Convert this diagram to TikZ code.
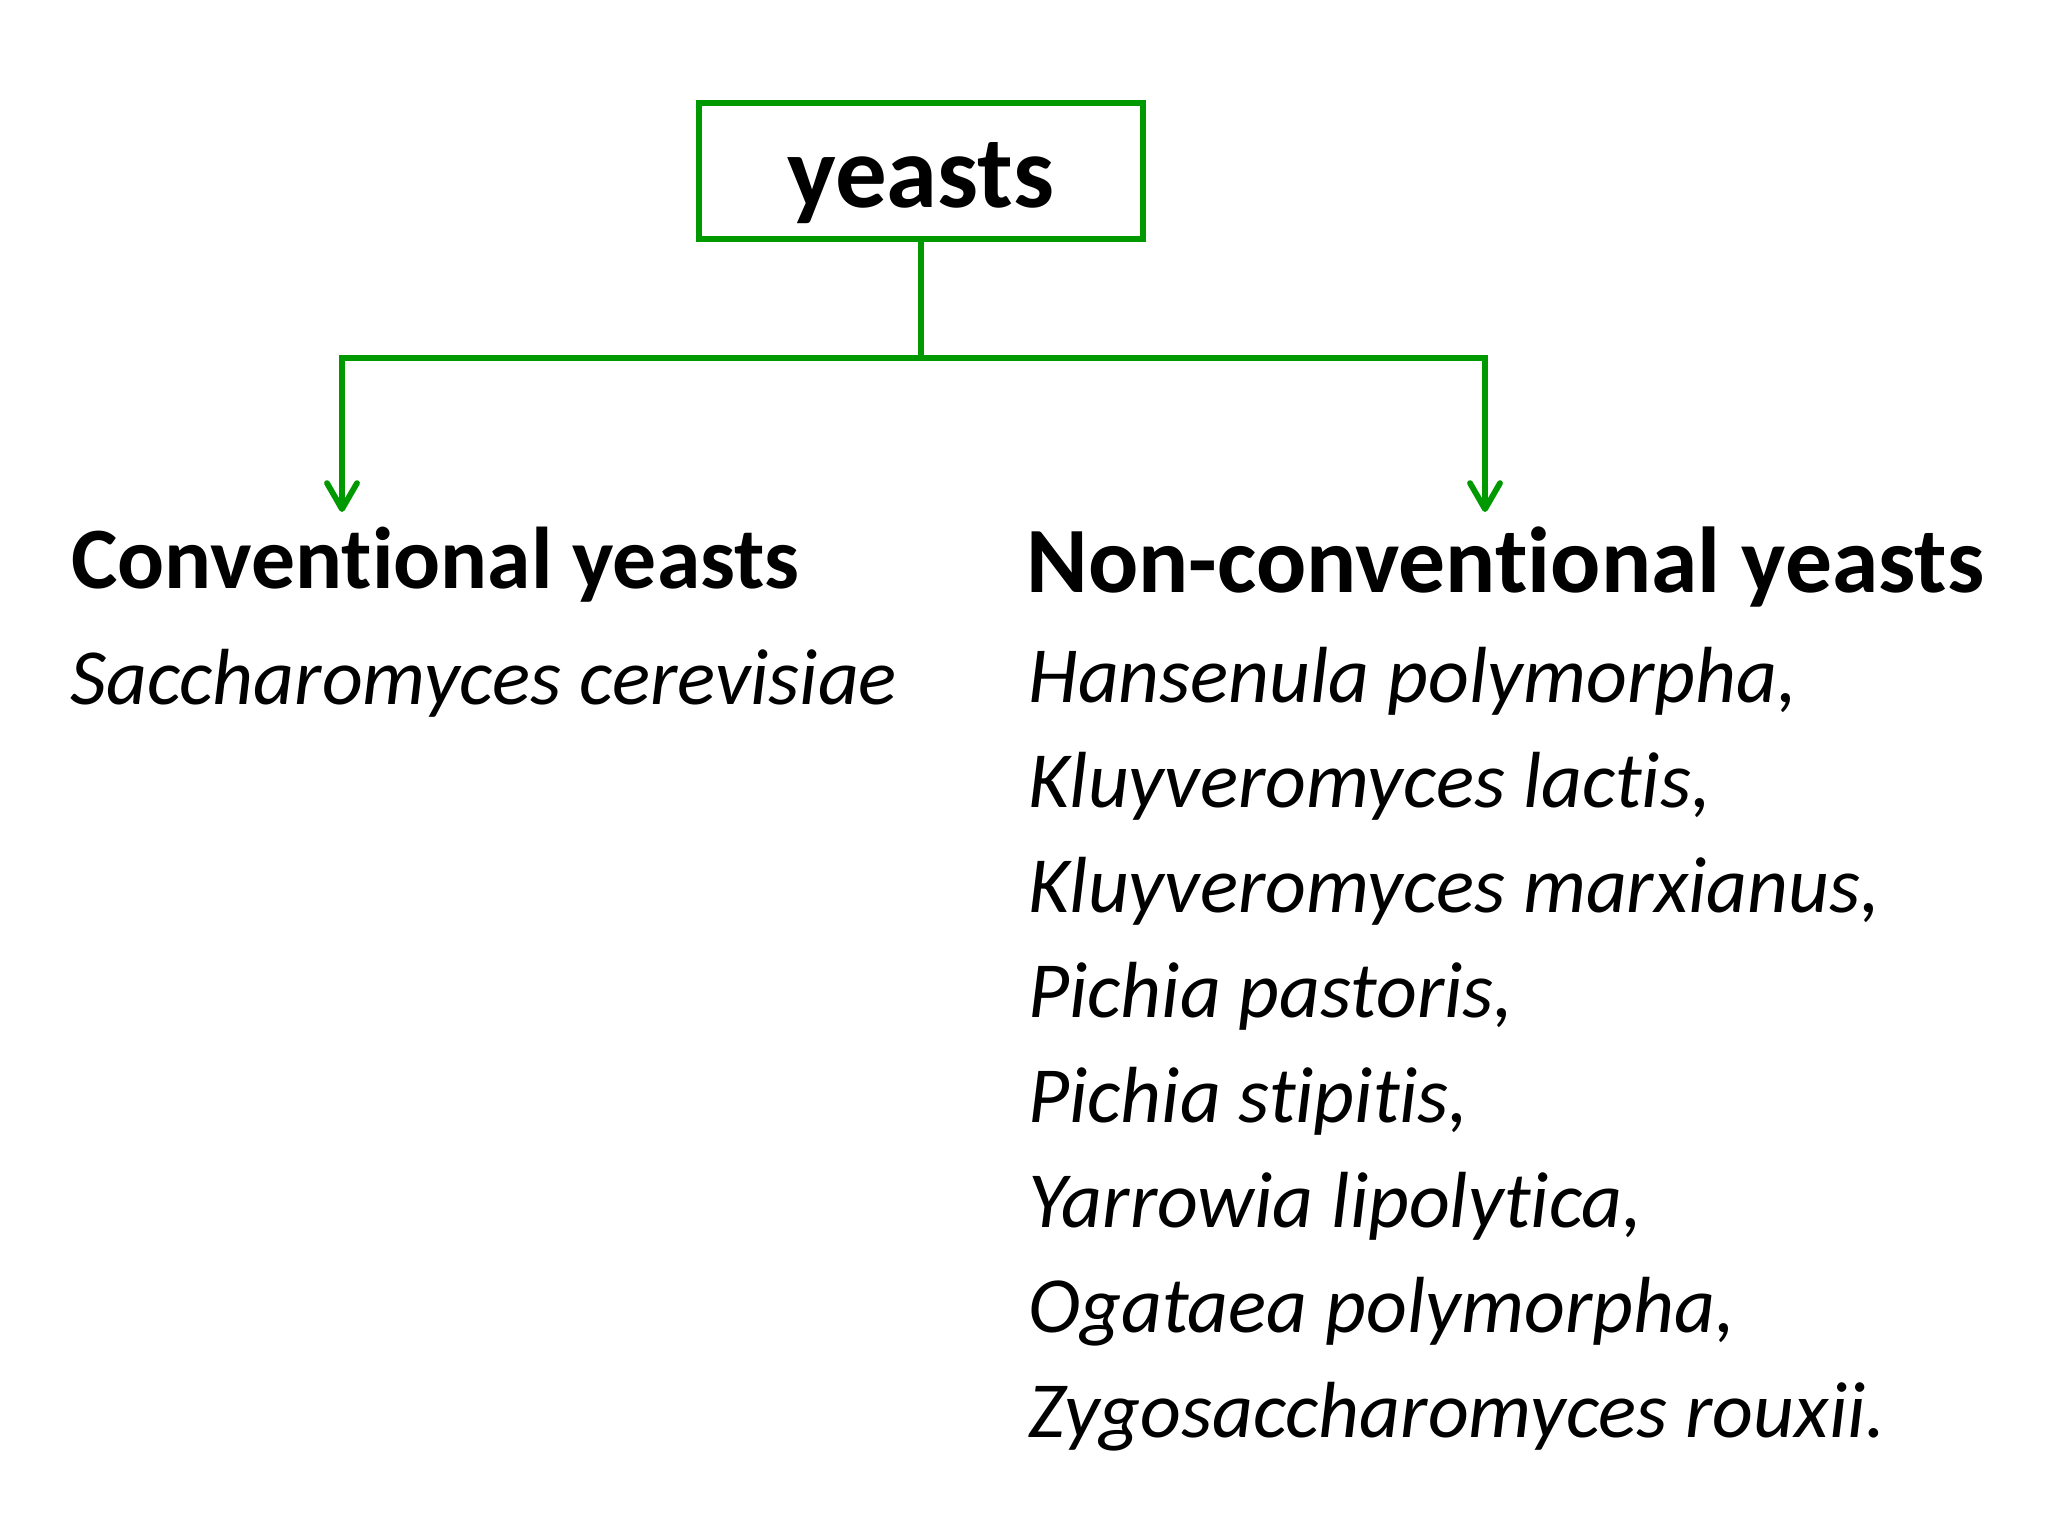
\documentclass[tikz,border=0pt]{standalone}
\usepackage{fontspec}
\setmainfont[Ligatures={NoCommon,NoRare}]{Carlito}
\usetikzlibrary{arrows.meta}
\definecolor{treegreen}{RGB}{0,153,0}
\begin{document}
\begin{tikzpicture}[x=0.5pt,y=-0.5pt,
  rootbox/.style={draw=treegreen,line width=3pt,minimum width=222pt,minimum height=68pt,inner sep=0pt,fill=white},
  roottext/.style={font=\fontsize{51.5}{60}\selectfont\bfseries,inner sep=0pt,anchor=base},
  headl/.style={font=\fontsize{43.8}{52}\selectfont\bfseries,inner sep=0pt,anchor=base west},
  headr/.style={font=\fontsize{46.8}{55}\selectfont\bfseries,inner sep=0pt,anchor=base west},
  species/.style={font=\fontsize{39.8}{47}\selectfont\itshape,inner sep=0pt,anchor=base west},
  link/.style={draw=treegreen,line width=2.8pt},
  branch/.style={link,-{Straight Barb[length=13pt,width=15pt,line width=2.9pt,round]}}
]
\useasboundingbox[fill=white] (0,0) rectangle (2048,1536);

\node[rootbox] (root) at (921,171) {};
\node[roottext] (roottxt) at (921,207) {yeasts};

\coordinate (split) at (921,358);
\coordinate (jl) at (342,358);
\coordinate (jr) at (1485,358);
\coordinate (tl) at (342,512);
\coordinate (tr) at (1485,512);

\draw[link] (root.south) -- (split);
\draw[branch] (split) -- (jl) -- (tl);
\draw[branch] (split) -- (jr) -- (tr);

\node[headl] (conv) at (71,588) {Conventional yeasts};
\node[species] (sc) at (70,704) {Saccharomyces cerevisiae};

\node[headr] (nonconv) at (1026,592) {Non-conventional yeasts};
\node[species] (s1) at (1028,702) {Hansenula polymorpha,};
\node[species] (s2) at (1028,807) {Kluyveromyces lactis,};
\node[species] (s3) at (1028,912) {Kluyveromyces marxianus,};
\node[species] (s4) at (1028,1017) {Pichia pastoris,};
\node[species] (s5) at (1028,1122) {Pichia stipitis,};
\node[species] (s6) at (1028,1227) {Yarrowia lipolytica,};
\node[species] (s7) at (1028,1332) {Ogataea polymorpha,};
\node[species] (s8) at (1028,1437) {Zygosaccharomyces rouxii.};
\end{tikzpicture}
\end{document}
